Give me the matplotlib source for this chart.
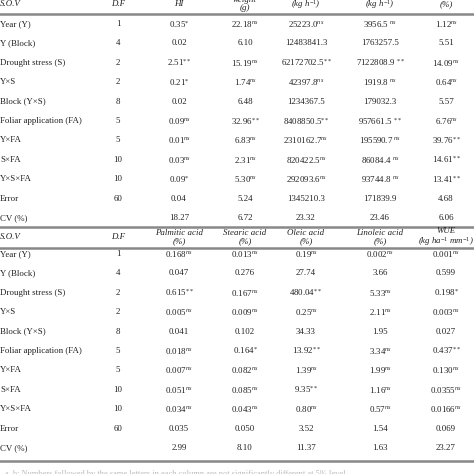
import matplotlib
matplotlib.use("Agg")
import matplotlib.pyplot as plt

plt.rcParams['font.family'] = 'Liberation Serif'
plt.rcParams['mathtext.fontset'] = 'custom'
plt.rcParams['mathtext.rm'] = 'Liberation Serif'
plt.rcParams['mathtext.it'] = 'Liberation Serif:italic'

sources = ["Year (Y)", "Y (Block)", "Drought stress (S)", "Y×S", "Block (Y×S)",
           "Foliar application (FA)", "Y×FA", "S×FA", "Y×S×FA", "Error", "CV (%)"]
df = ["1", "4", "2", "2", "8", "5", "5", "10", "10", "60", ""]

top_headers = ["S.O.V", "D.F", "HI", "weight\n(g)", "(kg h$^{-1}$)", "(kg h$^{-1}$)", "(%)"]
top_values = [
    ["0.35|*", "0.02", "2.51|**", "0.21|*", "0.02", "0.09|ns", "0.01|ns", "0.03|ns", "0.09|*", "0.04", "18.27"],
    ["22.18|ns", "6.10", "15.19|ns", "1.74|ns", "6.48", "32.96|**", "6.83|ns", "2.31|ns", "5.30|ns", "5.24", "6.72"],
    ["25223.0|ns", "12483841.3", "62172702.5|**", "42397.8|ns", "1234367.5", "8408850.5|**", "2310162.7|ns",
     "820422.5|ns", "292093.6|ns", "1345210.3", "23.32"],
    ["3956.5 |ns", "1763257.5", "7122808.9 |**", "1919.8 |ns", "179032.3", "957661.5 |**", "195590.7 |ns",
     "86084.4 |ns", "93744.8 |ns", "171839.9", "23.46"],
    ["1.12|ns", "5.51", "14.09|ns", "0.64|ns", "5.57", "6.76|ns", "39.76|**", "14.61|**", "13.41|**", "4.68", "6.06"],
]

bot_headers = ["S.O.V", "D.F", "Palmitic acid\n(%)", "Stearic acid\n(%)", "Oleic acid\n(%)",
               "Linoleic acid\n(%)", "WUE\n(kg ha$^{-1}$ mm$^{-1}$)"]
bot_values = [
    ["0.168|ns", "0.047", "0.615|**", "0.005|ns", "0.041", "0.018|ns", "0.007|ns", "0.051|ns", "0.034|ns", "0.035", "2.99"],
    ["0.013|ns", "0.276", "0.167|ns", "0.009|ns", "0.102", "0.164|*", "0.082|ns", "0.085|ns", "0.043|ns", "0.050", "8.10"],
    ["0.19|ns", "27.74", "480.04|**", "0.25|ns", "34.33", "13.92|**", "1.39|ns", "9.35|**", "0.80|ns", "3.52", "11.37"],
    ["0.002|ns", "3.66", "5.33|ns", "2.11|ns", "1.95", "3.34|ns", "1.99|ns", "1.16|ns", "0.57|ns", "1.54", "1.63"],
    ["0.001|ns", "0.599", "0.198|*", "0.003|ns", "0.027", "0.437|**", "0.130|ns", "0.0355|ns", "0.0166|ns", "0.069", "23.27"],
]

W = H = 474
fig = plt.figure(figsize=(4.74, 4.74), dpi=100)
ax = fig.add_axes([0, 0, 1, 1])
ax.set_xlim(0, W)
ax.set_ylim(H, 0)
ax.axis("off")

col_x = [0, 118, 179, 245, 306, 380, 446]
row_h = 19.4
fs = 6.4


def cell(s):
    if "|" in s:
        v, sup = s.split("|")
        return v + "$^{" + sup + "}$"
    return s


def draw_block(headers, values, head_y, line_y, first_y, bottom_line):
    for j, h in enumerate(headers):
        ax.text(col_x[j], head_y, h, ha="left" if j == 0 else "center", va="center",
                fontsize=fs, style="italic", color="#222", linespacing=1.0)
    ax.plot([0, W], [line_y, line_y], color="#888", lw=1.8)
    for i, s in enumerate(sources):
        y = first_y + i * row_h
        ax.text(col_x[0], y, s, ha="left", va="center", fontsize=fs, color="#222")
        ax.text(col_x[1], y, df[i], ha="center", va="center", fontsize=fs, color="#222")
        for j, col in enumerate(values):
            ax.text(col_x[j + 2], y, cell(col[i]), ha="center", va="center", fontsize=fs, color="#222")
    ax.plot([0, W], [bottom_line, bottom_line], color="#888", lw=1.8)


draw_block(top_headers, top_values, 4, 13.5, 24, 227)
draw_block(bot_headers, bot_values, 237, 247.5, 254, 460.5)

ax.text(5, 474, "a, b: Numbers followed by the same letters in each column are not significantly different at 5% level",
        ha="left", va="center", fontsize=6, color="#bbb")

fig.savefig("out.png", dpi=100)
